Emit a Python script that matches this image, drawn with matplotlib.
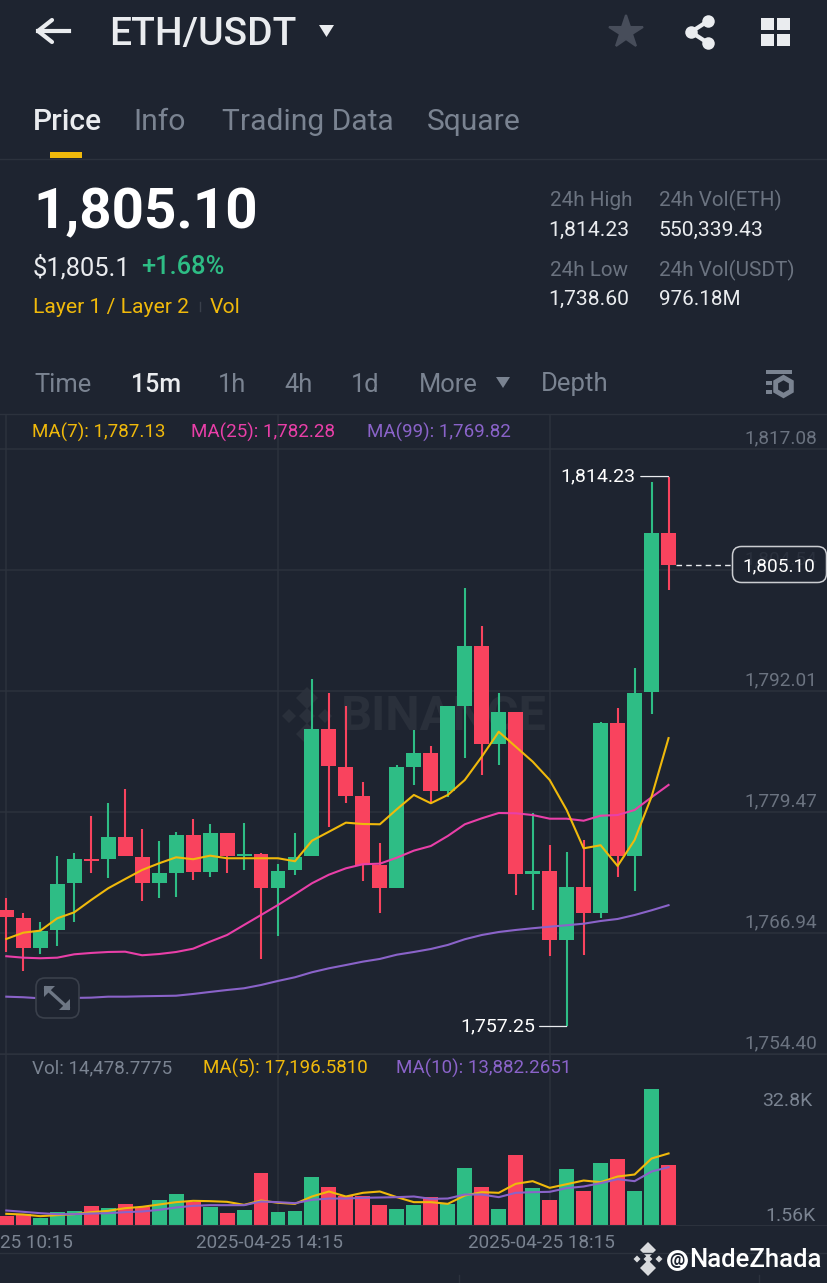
import matplotlib as mpl
import matplotlib.pyplot as plt
from matplotlib.patches import FancyBboxPatch, Polygon, Rectangle
from matplotlib.transforms import ScaledTranslation

opens = [1769.32, 1768.53, 1765.42, 1767.22, 1772.09, 1774.61, 1774.64, 1776.89, 1774.84, 1772.09,
         1773.19, 1777.09, 1773.29, 1777.30, 1774.89, 1775.09, 1771.57, 1773.44, 1774.89, 1788.04,
         1784.17, 1781.13, 1773.95, 1771.57, 1784.17, 1785.62, 1781.68, 1790.49, 1796.64, 1786.52,
         1789.87, 1773.08, 1773.36, 1766.21, 1771.74, 1769.04, 1788.73, 1774.92, 1791.88, 1808.35]
closes = [1768.57, 1765.42, 1767.18, 1772.05, 1774.61, 1774.43, 1776.89, 1774.89, 1772.09, 1773.12,
          1777.09, 1773.29, 1777.30, 1774.89, 1775.09, 1771.57, 1773.39, 1774.81, 1788.04, 1784.21,
          1781.16, 1773.98, 1771.57, 1784.11, 1785.62, 1781.68, 1790.46, 1796.64, 1786.52, 1789.87,
          1773.05, 1773.39, 1766.21, 1771.74, 1769.04, 1788.73, 1774.92, 1791.84, 1808.35, 1805.10]
highs = [1770.53, 1769.04, 1768.11, 1774.89, 1775.26, 1779.06, 1780.41, 1781.86, 1777.75, 1776.44,
         1777.43, 1778.72, 1778.20, 1777.30, 1778.30, 1775.20, 1774.06, 1777.27, 1793.25, 1791.77,
         1790.46, 1782.61, 1776.23, 1784.34, 1787.97, 1786.31, 1790.46, 1802.68, 1798.75, 1791.80,
         1789.87, 1779.34, 1776.06, 1775.36, 1776.57, 1788.80, 1790.22, 1794.39, 1813.69, 1814.23]
lows = [1765.00, 1763.03, 1764.76, 1765.56, 1768.11, 1773.19, 1772.61, 1774.89, 1770.29, 1770.60,
        1770.64, 1772.46, 1772.77, 1773.12, 1773.50, 1764.28, 1766.60, 1772.98, 1774.89, 1777.95,
        1780.38, 1772.36, 1769.04, 1771.57, 1782.27, 1780.38, 1781.03, 1785.10, 1783.31, 1784.31,
        1770.88, 1769.29, 1764.59, 1757.25, 1764.66, 1768.46, 1772.74, 1771.26, 1789.63, 1802.46]
ma7 = [1766.32, 1766.97, 1767.18, 1768.46, 1769.08, 1770.36, 1771.57, 1772.53, 1773.47, 1774.16,
       1774.78, 1774.58, 1774.95, 1774.68, 1774.68, 1774.68, 1774.68, 1774.37, 1776.50, 1777.43,
       1778.37, 1778.23, 1778.20, 1779.76, 1781.24, 1780.38, 1781.24, 1782.79, 1785.20, 1787.79,
       1786.24, 1784.69, 1782.79, 1779.68, 1775.71, 1776.03, 1773.88, 1776.57, 1781.06, 1787.13]
ma25 = [1764.53, 1764.38, 1764.32, 1764.38, 1764.73, 1764.87, 1764.97, 1765.00, 1764.63, 1764.76,
        1764.97, 1765.31, 1766.04, 1766.73, 1767.77, 1768.80, 1769.84, 1770.95, 1772.09, 1772.98,
        1773.64, 1774.06, 1774.12, 1774.74, 1775.47, 1775.95, 1776.99, 1778.20, 1778.82, 1779.37,
        1779.34, 1779.16, 1778.78, 1778.78, 1778.57, 1779.09, 1779.16, 1779.68, 1781.00, 1782.28]
ma99 = [1760.34, 1760.28, 1760.17, 1760.17, 1760.21, 1760.24, 1760.34, 1760.34, 1760.38, 1760.41,
        1760.44, 1760.62, 1760.83, 1761.03, 1761.21, 1761.55, 1761.97, 1762.35, 1762.87, 1763.28,
        1763.62, 1763.97, 1764.25, 1764.69, 1764.97, 1765.28, 1765.70, 1766.29, 1766.73, 1767.04,
        1767.25, 1767.43, 1767.59, 1767.74, 1767.90, 1768.18, 1768.39, 1768.80, 1769.29, 1769.82]
# volume in thousands
volumes = [1.94, 2.58, 1.61, 3.07, 3.23, 4.36, 3.95, 4.92, 4.12, 6.05,
           7.34, 5.41, 4.20, 2.82, 3.39, 12.43, 3.07, 3.15, 11.62, 9.12,
           6.94, 6.86, 4.84, 3.79, 4.68, 6.54, 5.00, 13.56, 9.12, 3.87,
           16.79, 8.72, 5.89, 13.40, 8.15, 14.85, 15.74, 8.15, 32.84, 14.48]
vol_ma5 = [2.58, 2.42, 2.02, 2.26, 2.50, 2.99, 3.31, 3.95, 4.28, 4.84,
           5.41, 5.73, 5.65, 5.49, 4.76, 5.81, 5.25, 5.00, 6.78, 7.99,
           6.78, 7.67, 7.99, 6.62, 5.41, 5.41, 5.00, 7.02, 7.83, 7.67,
           9.85, 10.49, 8.88, 9.76, 10.65, 10.25, 11.62, 12.10, 15.98, 17.20]
vol_ma10 = [3.39, 3.07, 2.74, 2.50, 2.50, 2.66, 2.74, 2.99, 3.15, 3.55,
            4.12, 4.52, 4.68, 4.68, 4.68, 5.57, 5.41, 5.16, 5.97, 6.29,
            6.29, 6.46, 6.54, 6.62, 6.78, 6.21, 6.29, 7.26, 7.26, 6.62,
            7.67, 7.83, 7.91, 8.80, 9.20, 10.01, 10.98, 10.49, 12.83, 13.88]
price_ticks = [1754.40, 1766.94, 1779.47, 1792.01, 1804.54, 1817.08]
vol_ticks = [1.56, 32.8]
time_ticks = [0, 16, 32]
time_labels = ['25 10:15', '2025-04-25 14:15', '2025-04-25 18:15']

BG = '#1E2430'
GRID = '#2C323D'
WHITE = '#EAECEF'
GRAY = '#7A8391'
DIM = '#6B7380'
GREEN = '#2EBD85'
RED = '#F9435E'
YELLOW = '#F0B90B'
PINK = '#E93FA8'
PURPLE = '#8A63C9'

dpi = 100
W, H = 828, 1283
mpl.rcParams['font.family'] = ['Roboto', 'DejaVu Sans']
fig = plt.figure(dpi=dpi, figsize=(W / dpi, H / dpi), facecolor=BG)


def box(top, bottom):
    return [0, 1 - bottom / H, 1, (bottom - top) / H]


xs = list(range(len(opens)))
xlim = (-0.371, 48.39)
ink = [GREEN if c >= o else RED for o, c in zip(opens, closes)]

# price panel
ax = fig.add_axes(box(414, 1054), facecolor='none')
ax.set_xlim(*xlim)
ax.set_ylim(1754.40, 1820.71)
for s in ax.spines.values():
    s.set_visible(False)
ax.set_xticks(time_ticks)
ax.set_yticks(price_ticks)
ax.set_yticklabels(['{:,.2f}'.format(p) for p in price_ticks])
ax.grid(True, color=GRID, lw=1.1, zorder=0)
ax.set_axisbelow(True)
ax.tick_params(axis='x', length=0, labelbottom=False)
ax.tick_params(axis='y', length=0, left=False, labelleft=False, right=False, labelright=True,
               pad=-8, labelsize=13.7, labelcolor=DIM)
for lab in ax.get_yticklabels():
    lab.set_ha('right')
    lab.set_va('bottom')
    lab.set_transform(lab.get_transform() + ScaledTranslation(0, 2 / dpi, fig.dpi_scale_trans))

ax.vlines(xs, lows, highs, colors=ink, lw=1.5, zorder=2)
bottoms = [min(o, c) for o, c in zip(opens, closes)]
sizes = [abs(o - c) for o, c in zip(opens, closes)]
ax.bar(xs, sizes, bottom=bottoms, width=0.88, color=ink, zorder=3)
ax.plot(xs, ma99, color=PURPLE, lw=1.5, zorder=4)
ax.plot(xs, ma25, color=PINK, lw=1.5, zorder=4)
ax.plot(xs, ma7, color=YELLOW, lw=1.5, zorder=5)
ax.plot([39.45, 42.75], [closes[-1], closes[-1]], color=WHITE, lw=1, ls=(0, (4, 3)), zorder=4)
# high and low markers
ax.annotate('1,814.23', xy=(39, highs[-1]), xytext=(-24, 0), textcoords='offset points',
            color='#FFFFFF', fontsize=14, ha='right', va='center',
            arrowprops=dict(arrowstyle='-', color=WHITE, lw=0.9, shrinkA=2, shrinkB=0))
ax.annotate('1,757.25', xy=(33, lows[33]), xytext=(-22.5, 0), textcoords='offset points',
            color='#FFFFFF', fontsize=14, ha='right', va='center',
            arrowprops=dict(arrowstyle='-', color=WHITE, lw=0.9, shrinkA=1, shrinkB=0))

# volume panel
vax = fig.add_axes(box(1054, 1224.5), facecolor='none')
vax.set_xlim(*xlim)
vax.set_ylim(0, 41.28)
for s in vax.spines.values():
    s.set_visible(False)
vax.spines['top'].set_visible(True)
vax.spines['top'].set_color(GRID)
vax.spines['bottom'].set_visible(True)
vax.spines['bottom'].set_color(GRID)
vax.set_xticks(time_ticks)
vax.set_xticklabels(time_labels)
vax.xaxis.grid(True, color=GRID, lw=1.1, zorder=0)
vax.set_axisbelow(True)
vax.tick_params(axis='x', length=0, pad=7, labelsize=13.6, labelcolor=GRAY)
vax.set_yticks(vol_ticks)
vax.set_yticklabels(['{}K'.format(v) for v in vol_ticks])
vax.tick_params(axis='y', length=0, left=False, labelleft=False, right=False, labelright=True,
                pad=-9, labelsize=14, labelcolor=GRAY)
for lab, dx, dy in zip(vax.get_yticklabels(), [0, -3], [2, -12]):
    lab.set_ha('right')
    lab.set_va('center')
    lab.set_transform(lab.get_transform() + ScaledTranslation(dx / dpi, dy / dpi, fig.dpi_scale_trans))
tick_shift = [(-6.3, 'left'), (-8, 'center'), (-8, 'center')]
for lab, (dx, ha) in zip(vax.get_xticklabels(), tick_shift):
    lab.set_ha(ha)
    lab.set_transform(lab.get_transform() + ScaledTranslation(dx / dpi, 0, fig.dpi_scale_trans))
vax.bar(xs, volumes, width=0.88, color=ink, zorder=2)
vax.plot(xs, vol_ma5, color=YELLOW, lw=1.5, zorder=3)
vax.plot(xs, vol_ma10, color=PURPLE, lw=1.5, zorder=4)

# app chrome, drawn in pixel coordinates
ui = fig.add_axes([0, 0, 1, 1], facecolor='none')
ui.set_xlim(0, W)
ui.set_ylim(H, 0)
ui.axis('off')


def txt(x, y, s, px, color=WHITE, ha='left', weight='normal', **kw):
    return ui.text(x, y + 1.5, s, fontsize=px * 0.72, color=color, ha=ha, va='center',
                   fontweight=weight, **kw)


def tri(x0, x1, y0, y1, color):
    ui.add_patch(Polygon([(x0, y0), (x1, y0), ((x0 + x1) / 2, y1)], closed=True, fc=color, ec='none'))


def diamond(target, cx, cy, r, color):
    target.add_patch(Polygon([(cx - r, cy), (cx, cy - r), (cx + r, cy), (cx, cy + r)], fc=color, ec='none'))


# header
ui.plot([38, 69], [31, 31], color=WHITE, lw=3)
ui.plot([52, 38, 52], [20, 31, 42], color=WHITE, lw=3, solid_capstyle='round')
txt(109, 33, 'ETH/USDT', 39, weight='medium')
tri(319, 334, 25, 37, WHITE)
ui.plot([626], [32], marker='*', ms=25, color='#474D5A', mec='#474D5A', mew=1.5)
ui.plot([708, 691, 708], [21, 32, 43], color=WHITE, lw=3)
ui.plot([691, 708, 708], [32, 21, 43], ls='none', marker='o', ms=9, color=WHITE, mec='none')
for x0 in (761, 777):
    for y0 in (18, 34):
        ui.add_patch(Rectangle((x0, y0), 13, 12, fc=WHITE, ec='none'))

# tabs
txt(33, 120, 'Price', 30, weight='medium')
txt(133, 120, 'Info', 30, GRAY)
txt(222, 120, 'Trading Data', 30, GRAY)
txt(427, 120, 'Square', 30, GRAY)
ui.add_patch(Rectangle((50, 152), 32, 6, fc=YELLOW, ec='none'))
ui.plot([0, W], [158.5, 158.5], color=GRID, lw=1)

# price summary
txt(33, 212, '1,805.10', 56.5, '#FFFFFF', weight='bold')
txt(33, 266, '$1,805.1', 25.5)
txt(141, 266, '+1.68%', 25.5, GREEN, weight='medium')
txt(33, 306, 'Layer 1 / Layer 2', 21.2, YELLOW)
ui.plot([200, 200], [302, 311], color='#3A404B', lw=1)
txt(210, 306, 'Vol', 21.2, YELLOW)
txt(550, 199, '24h High', 20.7, DIM)
txt(548.5, 229, '1,814.23', 21.2)
txt(659, 199, '24h Vol(ETH)', 20.7, DIM)
txt(658, 229, '550,339.43', 21.2)
txt(550, 269, '24h Low', 20.7, DIM)
txt(548.5, 298, '1,738.60', 21.2)
txt(659, 269, '24h Vol(USDT)', 20.7, DIM)
txt(659, 298, '976.18M', 20.7)

# interval row
txt(34, 383, 'Time', 25.5, GRAY)
txt(131, 383, '15m', 25, weight='medium')
txt(218, 383, '1h', 25.5, GRAY)
txt(284.5, 383, '4h', 25.5, GRAY)
txt(351, 383, '1d', 25.5, GRAY)
txt(419, 383, 'More', 25.5, GRAY)
tri(496, 510, 377, 388, GRAY)
txt(541, 383, 'Depth', 25.8, GRAY)
ui.add_patch(Rectangle((766, 370), 26, 4, fc=GRAY, ec='none'))
ui.add_patch(Rectangle((766, 381), 6, 4, fc=GRAY, ec='none'))
ui.add_patch(Rectangle((766, 390), 6, 4, fc=GRAY, ec='none'))
ui.plot([783], [386], marker='h', ms=13, mfc='none', mec=GRAY, mew=3.5)
ui.plot([0, W], [413.5, 413.5], color=GRID, lw=1)

# indicator legends
txt(32, 431, 'MA(7): 1,787.13', 18.8, YELLOW)
txt(191, 431, 'MA(25): 1,782.28', 18.8, PINK)
txt(367, 431, 'MA(99): 1,769.82', 18.8, PURPLE)
txt(32, 1067, 'Vol: 14,478.7775', 18.8, GRAY)
txt(203, 1067, 'MA(5): 17,196.5810', 18.8, YELLOW)
txt(396, 1067, 'MA(10): 13,882.2651', 18.8, PURPLE)

# faint watermark behind the candles
wm = fig.add_axes(box(414, 1054), facecolor='none', zorder=-1)
wm.set_xlim(0, W)
wm.set_ylim(1054, 414)
wm.axis('off')
wm.text(341, 717, 'BINANCE', fontsize=35, fontweight='bold', color='#2A303B', va='center')
for cx, cy, r in [(307, 698, 11), (307, 734, 11), (289, 716, 7), (325, 716, 7), (307, 716, 8)]:
    diamond(wm, cx, cy, r, '#2A303B')

# expand button
ui.add_patch(FancyBboxPatch((36, 978), 43, 40, boxstyle='round,pad=0,rounding_size=9',
                            fc=BG, ec='#3A404B', lw=1.2, zorder=6))
ui.plot([46, 68], [988, 1008], color='#6E7785', lw=2.4, zorder=7)
ui.add_patch(Polygon([(44, 986), (55, 986), (44, 997)], fc='#6E7785', ec='none', zorder=7))
ui.add_patch(Polygon([(70, 1010), (59, 1010), (70, 999)], fc='#6E7785', ec='none', zorder=7))

# last price tag
ui.add_patch(FancyBboxPatch((732.5, 546.5), 94, 36, boxstyle='round,pad=0,rounding_size=9',
                            fc=BG, ec=WHITE, lw=1.1, alpha=0.85, zorder=6))
txt(779, 564.5, '1,805.10', 19, '#FFFFFF', ha='center', zorder=7)

# footer
ui.plot([0, W], [1253, 1253], color=GRID, lw=1)
ui.plot([459, 459], [1275, H], color=GRID, lw=1)
ui.plot([759, 759], [1275, H], color=GRID, lw=1)
for cx, cy, r in [(648, 1250, 8), (648, 1268, 8), (637, 1259, 3.5), (659, 1259, 3.5), (648, 1259, 4.5)]:
    diamond(ui, cx, cy, r, '#D8DADD')
ui.plot([677], [1260], marker='o', ms=15, mfc='#FFFFFF', mec='none')
txt(677, 1258.5, '@', 17, '#1E2430', ha='center', weight='bold')
txt(689, 1258.5, 'NadeZhada', 25.8, '#FFFFFF', weight='medium')

fig.savefig('out.png', dpi=dpi, facecolor=BG)
